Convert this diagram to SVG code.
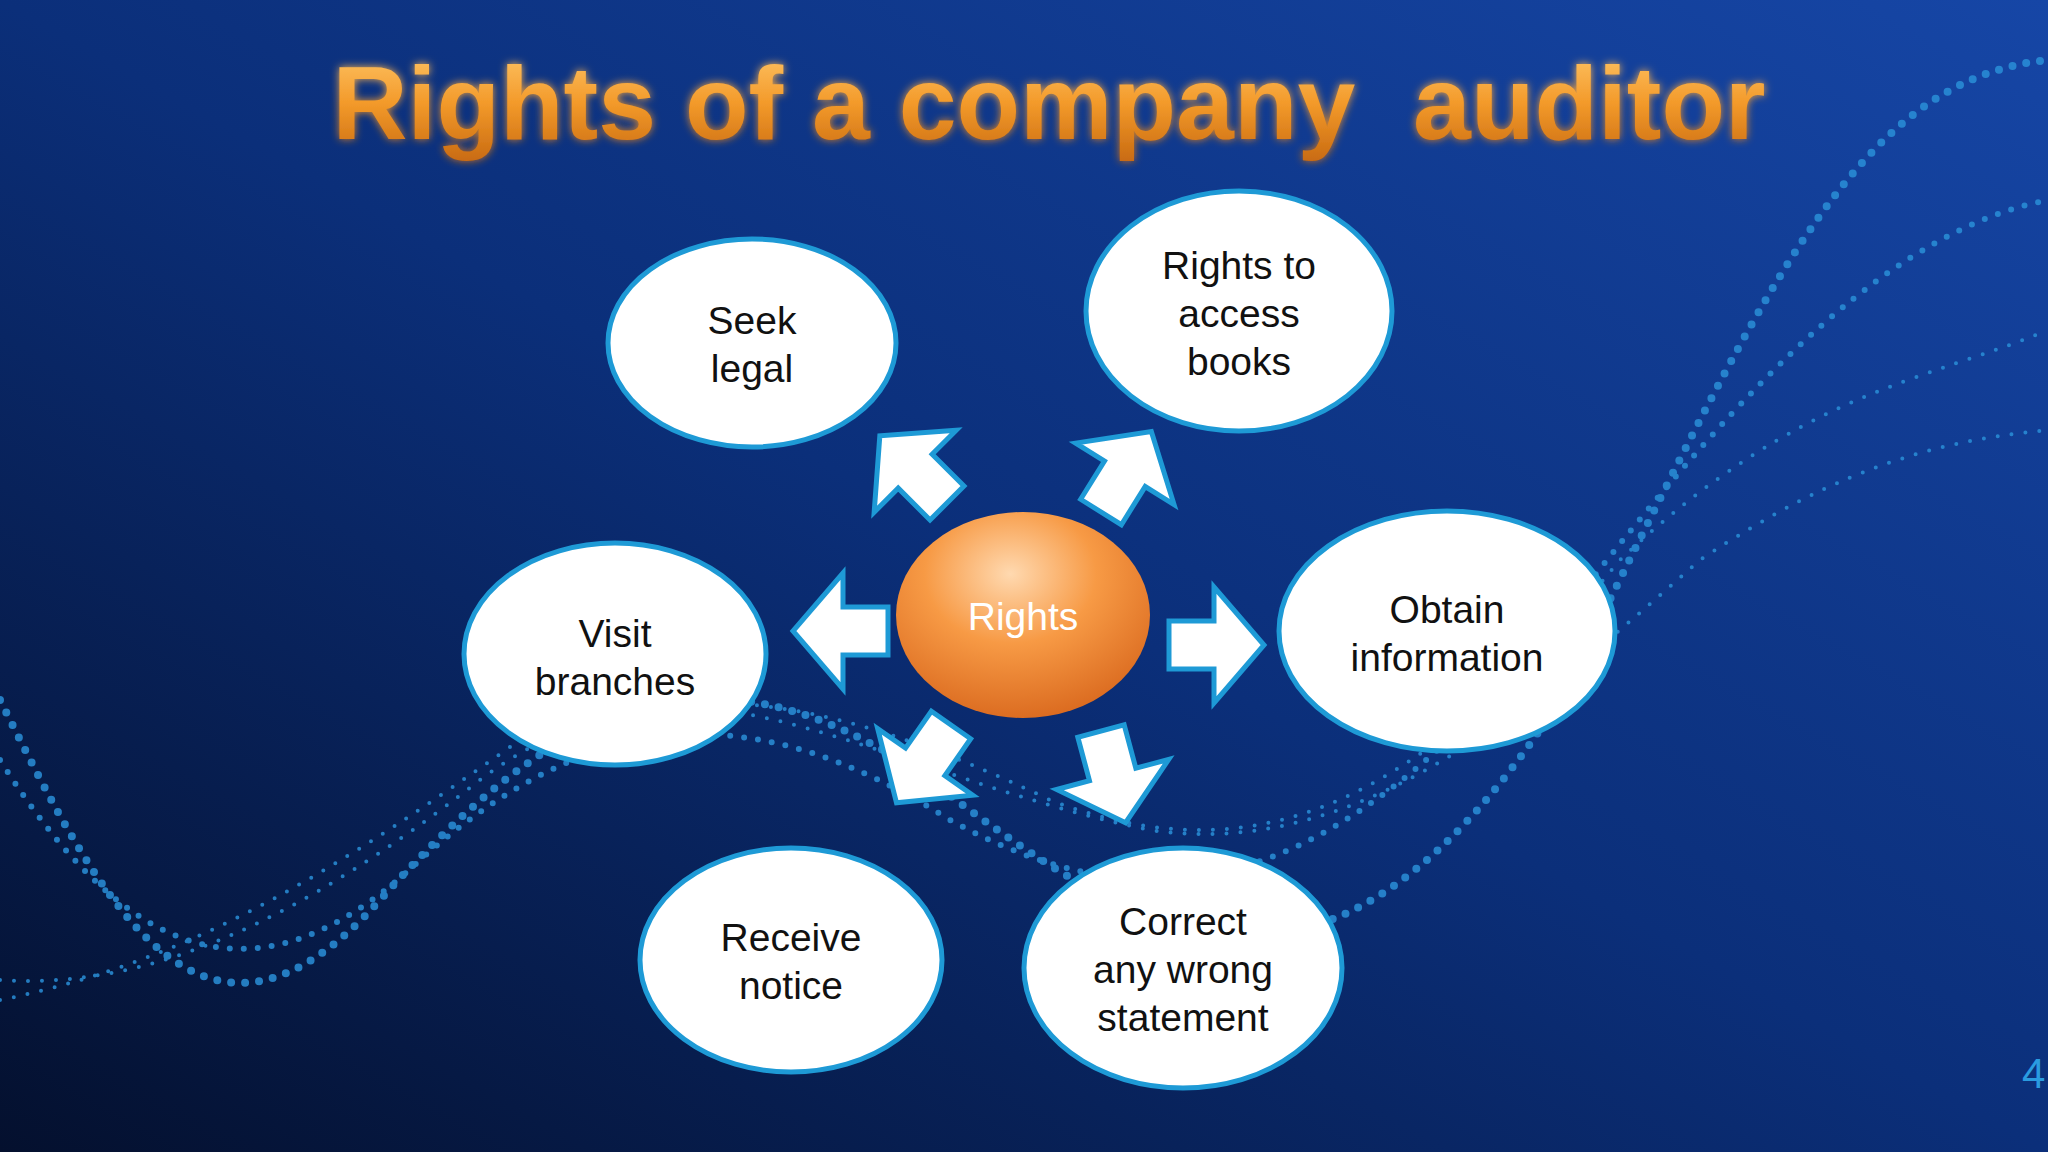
<svg xmlns="http://www.w3.org/2000/svg" width="2048" height="1152" viewBox="0 0 2048 1152">
<defs>
<linearGradient id="bg" x1="0" y1="1" x2="1" y2="0">
<stop offset="0" stop-color="#04102e"/><stop offset="0.5" stop-color="#0b2f7a"/><stop offset="1" stop-color="#1646a6"/>
</linearGradient>
<linearGradient id="tg" x1="0" y1="0" x2="0" y2="1">
<stop offset="0" stop-color="#ffc76a"/><stop offset="0.5" stop-color="#f39a2a"/><stop offset="1" stop-color="#c96b12"/>
</linearGradient>
<radialGradient id="og" cx="0.45" cy="0.3" r="0.75">
<stop offset="0" stop-color="#ffd9b0"/><stop offset="0.45" stop-color="#f79a45"/><stop offset="1" stop-color="#d8661c"/>
</radialGradient>
<filter id="glow"><feGaussianBlur stdDeviation="4" result="b"/><feMerge><feMergeNode in="b"/><feMergeNode in="SourceGraphic"/></feMerge></filter>
<path id="arr" d="M0,-24 H45 V-58 L95,0 L45,58 V24 H0 Z"/>
<style>
.node{fill:#fff;stroke:#1e9ad6;stroke-width:5}
.lbl{font-family:"Liberation Sans",Arial,sans-serif;font-size:39px;fill:#111;text-anchor:middle}
.ar{fill:#fff;stroke:#1e9ad6;stroke-width:5;stroke-linejoin:miter}
.dots{fill:none;stroke:#2a8fd8;stroke-linecap:round;stroke-dasharray:0 14}
</style>
</defs>
<rect width="2048" height="1152" fill="url(#bg)"/>
<g opacity="0.85">
<path class="dots" stroke-width="8" d="M0,700 C100,900 200,1100 380,900 C560,700 700,640 900,760 C1100,900 1300,1100 1560,700 C1760,300 1850,80 2048,60"/>
<path class="dots" stroke-width="6" d="M0,760 C120,950 250,1020 420,860 C600,700 760,700 950,820 C1150,930 1330,900 1560,620 C1760,360 1900,230 2048,200"/>
<path class="dots" stroke-width="4" d="M0,980 C150,990 300,920 480,780 C640,660 820,690 1050,800 C1260,880 1420,800 1620,560 C1800,390 1930,380 2048,330"/>
<path class="dots" stroke-width="4" d="M0,1000 C200,960 350,860 520,740 C700,640 900,780 1150,830 C1350,860 1520,720 1700,560 C1850,460 1950,440 2048,430"/>
</g>
<text x="1049" y="139" font-family="Liberation Sans,Arial,sans-serif" font-weight="bold" font-size="104" fill="url(#tg)" text-anchor="middle" filter="url(#glow)" xml:space="preserve">Rights of a company  auditor</text>
<g id="connectors">
<use href="#arr" class="ar" transform="translate(1169,645)"/>
<use href="#arr" class="ar" transform="translate(888,631) rotate(180)"/>
<use href="#arr" class="ar" transform="translate(947,503) rotate(-135)"/>
<use href="#arr" class="ar" transform="translate(1101,512) rotate(-58)"/>
<use href="#arr" class="ar" transform="translate(951,725) rotate(125)"/>
<use href="#arr" class="ar" transform="translate(1101,731) rotate(75)"/>
</g>
<g id="center"><ellipse cx="1023" cy="615" rx="127" ry="103" fill="url(#og)"/><text x="1023" y="630" class="lbl" style="fill:#fff">Rights</text></g>
<g id="seek"><ellipse cx="752" cy="343" rx="144" ry="104" class="node"/><text class="lbl" x="752" y="334">Seek</text><text class="lbl" x="752" y="382">legal</text></g>
<g id="access"><ellipse cx="1239" cy="311" rx="153" ry="120" class="node"/><text class="lbl" x="1239" y="279">Rights to</text><text class="lbl" x="1239" y="327">access</text><text class="lbl" x="1239" y="375">books</text></g>
<g id="obtain"><ellipse cx="1447" cy="631" rx="168" ry="120" class="node"/><text class="lbl" x="1447" y="623">Obtain</text><text class="lbl" x="1447" y="671">information</text></g>
<g id="visit"><ellipse cx="615" cy="654" rx="151" ry="111" class="node"/><text class="lbl" x="615" y="647">Visit</text><text class="lbl" x="615" y="695">branches</text></g>
<g id="receive"><ellipse cx="791" cy="960" rx="151" ry="112" class="node"/><text class="lbl" x="791" y="951">Receive</text><text class="lbl" x="791" y="999">notice</text></g>
<g id="correct"><ellipse cx="1183" cy="968" rx="159" ry="120" class="node"/><text class="lbl" x="1183" y="935">Correct</text><text class="lbl" x="1183" y="983">any wrong</text><text class="lbl" x="1183" y="1031">statement</text></g>
<text x="2022" y="1088" font-family="Liberation Sans,Arial,sans-serif" font-size="42" fill="#2a9be0">4</text>
</svg>
